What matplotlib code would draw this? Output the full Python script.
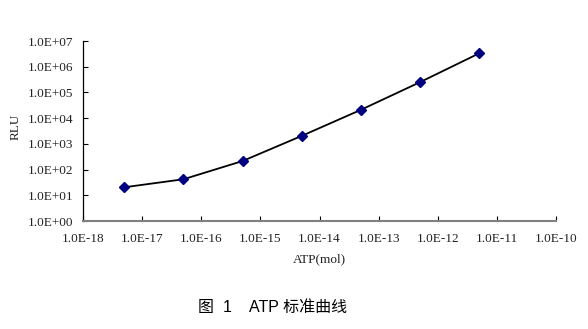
import numpy as np
import matplotlib as mpl
mpl.use('Agg')
import matplotlib.pyplot as plt
from matplotlib.ticker import FixedLocator, NullLocator

# ATP standard curve data
atp_mol = [5e-18, 5e-17, 5e-16, 5e-15, 5e-14, 5e-13, 5e-12]
rlu = [20.5, 42, 215, 2040, 21000, 250000, 3.3e6]

x_ticks = [10.0 ** e for e in range(-18, -9)]
x_labels = ['1.0E%03d' % e for e in range(-18, -9)]
y_ticks = [10.0 ** e for e in range(0, 8)]
y_labels = ['1.0E+%02d' % e for e in range(0, 8)]

tick_font = ['Liberation Serif', 'DejaVu Serif']
tick_size = 9.5

fig = plt.figure(figsize=(5.88, 3.29), dpi=100)
ax = fig.add_axes([83 / 588, 1 - 221 / 329, (556 - 83) / 588, (221 - 41) / 329])

ax.plot(atp_mol, rlu, color='black', linewidth=1.3, zorder=2)
ax.plot(atp_mol, rlu, linestyle='none', marker='D', markersize=5.2,
        color='#000080', zorder=3)

ax.set_xscale('log')
ax.set_yscale('log')
ax.set_xlim(1e-18, 1e-10)
ax.set_ylim(1e0, 1e7)

ax.xaxis.set_major_locator(FixedLocator(x_ticks))
ax.xaxis.set_minor_locator(NullLocator())
ax.yaxis.set_major_locator(FixedLocator(y_ticks))
ax.yaxis.set_minor_locator(NullLocator())
ax.set_xticklabels(x_labels, fontfamily=tick_font, fontsize=tick_size)
ax.set_yticklabels(y_labels, fontfamily=tick_font, fontsize=tick_size)
ax.tick_params(axis='both', direction='in', length=3.5, width=0.8,
               color='black', labelcolor='#222222')
ax.tick_params(axis='x', pad=9)
ax.tick_params(axis='y', pad=7)

ax.spines['top'].set_visible(False)
ax.spines['right'].set_visible(False)
ax.spines['left'].set_color('black')
ax.spines['left'].set_linewidth(0.9)
ax.spines['bottom'].set_color('#808080')
ax.spines['bottom'].set_linewidth(1.5)

fig.text(319.5 / 588, 1 - 259 / 329, 'ATP(mol)', ha='center', va='center',
         fontfamily=tick_font, fontsize=tick_size, color='#222222')
fig.text(16 / 588, 1 - 127 / 329, 'RLU', ha='center', va='center',
         rotation=90, fontfamily=tick_font, fontsize=tick_size, color='#222222')

fig.text(198 / 588, 1 - 307.5 / 329, '图  1    ATP 标准曲线', ha='left',
         va='center', fontfamily=['Liberation Sans', 'Noto Sans CJK SC'],
         fontsize=11.5, color='black')

fig.savefig('out.png', dpi=100)
